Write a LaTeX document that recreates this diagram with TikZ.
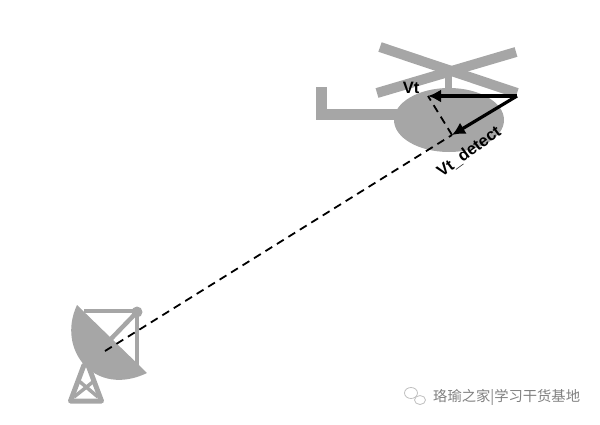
\documentclass[tikz,border=0pt]{standalone}
\usepackage{fontspec}
\setmainfont{Liberation Sans}
\newfontfamily\cjk{Noto Sans CJK SC}
\usetikzlibrary{arrows.meta}
\definecolor{part}{HTML}{A6A6A6}
\tikzset{
  body/.style={draw=none,fill=part},
  bar/.style={draw=part,line width=10pt},
  thin bar/.style={draw=part,line width=5pt,line join=round},
  vec/.style={draw=black,line width=3.2pt,-{Latex[length=13pt,width=13pt]}},
  sight/.style={draw=black,line width=1.8pt,dash pattern=on 8pt off 5.5pt},
  lab/.style={font=\bfseries\fontsize{16.5}{18}\selectfont,text=black,inner sep=0pt},
  wmark/.style={font=\cjk\fontsize{14.3}{16}\selectfont,text=black!50,inner sep=0pt,anchor=west}
}
\begin{document}
\begin{tikzpicture}[x=1pt,y=-1pt]
\useasboundingbox (0,0) rectangle (600,424);
% helicopter
\draw[bar] (380,47) -- (517,93);
\draw[bar] (377,93) -- (516,52);
\draw[draw=part,line width=7pt] (448,67) -- (448,100);
\draw[draw=part,line width=11pt,line join=miter] (321,87) -- (321,114.5) -- (410,114.5);
\fill[body] (449,120) ellipse [x radius=55, y radius=32];
% radar dish
\fill[body] (77,305) .. controls (56,350) and (95,398) .. (147,373) -- cycle;
\draw[draw=part,line width=4.5pt] (84,311) -- (137,311);
\draw[draw=part,line width=4.5pt] (137,312) -- (137,372);
\draw[draw=part,line width=4.5pt] (137,312) -- (108,342);
\fill[body] (137,312) circle (5.5pt);
% radar tower
\draw[thin bar] (84,365) -- (70.5,401) -- (101.5,401) -- (88,365) -- cycle;
\draw[draw=part,line width=3.5pt] (74,397) -- (94,381) (98,397) -- (79,381);
% sight line and vectors
\coordinate (radar) at (105,351);
\coordinate (tip) at (517,96);
\coordinate (vt) at (428,96);
\coordinate (det) at (452,135);
\draw[sight] (radar) -- (det);
\draw[sight] (det) -- (vt);
\draw[vec] (tip) -- (vt);
\draw[vec] (tip) -- (det);
\node[lab] (vtlabel) at (411,88) {Vt};
\node[lab,rotate=36] (vdlabel) at (469,152) {Vt\_detect};
% watermark
\draw[draw=black!25,line width=0.8pt] (411,393) ellipse [x radius=6.5, y radius=5.5];
\draw[draw=black!25,line width=0.8pt] (420,400) ellipse [x radius=5.5, y radius=4.5];
\node[wmark] (wm) at (433,397) {珞瑜之家|学习干货基地};
\end{tikzpicture}
\end{document}
